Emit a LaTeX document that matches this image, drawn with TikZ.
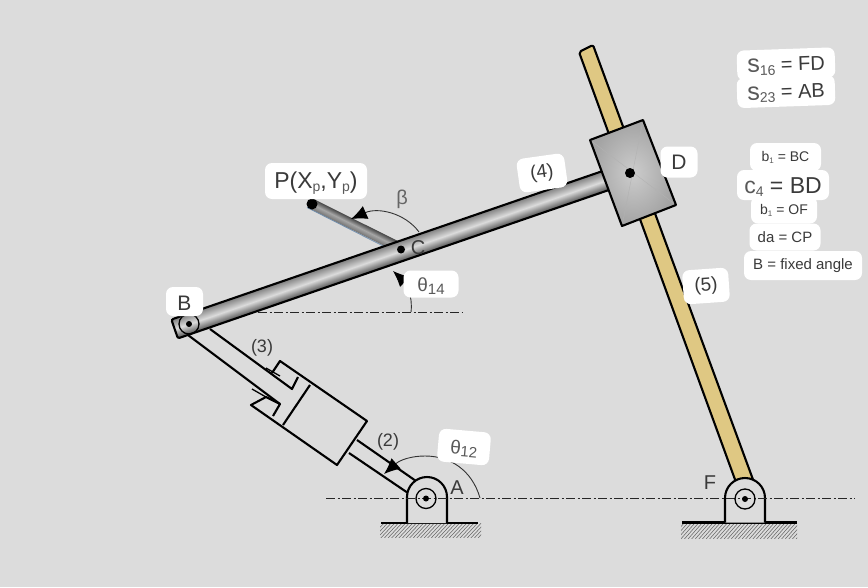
\documentclass[tikz,border=0pt]{standalone}
\usepackage{fontspec}
\setmainfont{Liberation Sans}
\usetikzlibrary{arrows.meta,calc}
\definecolor{bgc}{HTML}{DCDCDC}
\definecolor{txt}{HTML}{3A3A3A}
\definecolor{tan5}{HTML}{DFC883}
\definecolor{steel}{HTML}{6F8FB0}
\newcommand{\fs}[1]{\fontsize{#1}{#1}\selectfont}
\newcommand{\low}[2]{\raisebox{-0.25ex}{\fs{#1}\color{black!65}#2}}
\newcommand{\dn}[1]{\raisebox{-2pt}[\height][\depth]{#1}}
\tikzset{
  x=1pt,y=-1pt,
  mech/.style={line width=2.1pt,black,line join=round},
  thin mech/.style={line width=1.3pt,black},
  centerline/.style={line width=0.8pt,black!85,dash pattern=on 9pt off 2.5pt on 2pt off 2.5pt},
  angarc/.style={line width=0.9pt,black!80},
  tipp/.style={-{Latex[black,length=16pt,width=14pt]}},
  lbl/.style={fill=white,rounded corners=7pt,inner sep=0pt,text=txt,align=center},
  plain/.style={inner sep=0pt,text=txt},
  pin/.style={circle,draw=black,line width=1.3pt,minimum size=20pt,inner sep=0pt},
  pindot/.style={circle,fill=black,minimum size=6pt,inner sep=0pt},
  hatchline/.style={line width=0.55pt,black!60},
}
\begin{document}
\begin{tikzpicture}
\useasboundingbox (0,0) rectangle (868,587);
\fill[bgc] (0,0) rectangle (868,587);

% centre lines
\coordinate (cl1a) at (258,312); \coordinate (cl1b) at (463,312);
\coordinate (cl2a) at (326,498.5); \coordinate (cl2b) at (855,498.5);

% link 5
\coordinate (r5a) at (579,52); \coordinate (r5b) at (593,45);
\coordinate (r5c) at (755,485); \coordinate (r5d) at (737,485);
\draw[mech,fill=tan5,rounded corners=2pt] (r5a) -- (r5b) -- (r5c) -- (r5d) -- cycle;

% cylinder rod 3
\coordinate (b3u) at (210,329); \coordinate (b3l) at (188,335);
\coordinate (g1a) at (292,389); \coordinate (g2a) at (280,404);
\draw[mech] (b3u) -- (g1a) -- (298,377);
\draw[mech] (b3l) -- (g2a) -- (273,416);
% cylinder body
\draw[mech] (272,373) -- (280,361) -- (367,421) -- (337,465) -- (251,405) -- (266,397) -- (280,404);
\draw[mech] (310,385) -- (283,425);
\draw[thin mech] (266,368) -- (280,376);
\draw[thin mech] (252,389) -- (266,397);
% rod 2
\coordinate (a2u) at (357,440); \coordinate (a2l) at (349,453);
\coordinate (a2ue) at (416,481); \coordinate (a2le) at (408,493);
\draw[mech] (a2u) -- (a2ue);
\draw[mech] (a2l) -- (a2le);

% arm CP
\begin{scope}[transform canvas={shift={(356,226)},rotate=-26.5}]
\node[minimum width=99pt,minimum height=10.5pt,inner sep=0pt,
  top color=black!72,bottom color=black!55,middle color=black!35] (armcp) at (0,0) {};
\end{scope}
\coordinate (armla) at (307,207.5); \coordinate (armlb) at (385,247);
\draw[steel,line width=0.7pt] (armla) -- (armlb);

% link 4
\begin{scope}[transform canvas={shift={(402.5,250.5)},rotate=19}]
\node[minimum width=482pt,minimum height=20pt,inner sep=0pt,rounded corners=2pt,
  draw=black,line width=2.1pt,top color=black!50,bottom color=black!68,middle color=black!14] (link4) at (0,0) {};
\end{scope}

% block D
\coordinate (d1) at (590,140); \coordinate (d2) at (643,120);
\coordinate (d3) at (676,205); \coordinate (d4) at (622,226);
\shade[inner color=black!20,outer color=black!36] (d1) -- (d2) -- (d3) -- (d4) -- cycle;
\draw[black!30,line width=0.4pt] (d1) -- (d3) (d2) -- (d4);
\draw[mech] (d1) -- (d2) -- (d3) -- (d4) -- cycle;
\node[circle,fill=black,minimum size=10pt,inner sep=0pt] (ptD) at (630,173) {};

% dots
\node[circle,fill=black,minimum size=11pt,inner sep=0pt] (ptP) at (312,204) {};
\node[circle,fill=black,minimum size=8pt,inner sep=0pt] (ptC) at (401,249.5) {};
\node[pin] (pinB) at (189,324) {};
\node[pindot] (dotB) at (189,324) {};

% grounds
\begin{scope}
\clip (380,523) rectangle (481,537);
\foreach \k in {0,3.6,...,120} \draw[hatchline] (370+\k,538) -- (385+\k,522);
\end{scope}
\begin{scope}
\clip (681,523) rectangle (797,538);
\foreach \k in {0,3.6,...,136} \draw[hatchline] (670+\k,539) -- (685+\k,522);
\end{scope}
\coordinate (gAa) at (381,523); \coordinate (gAb) at (478,523);
\coordinate (gFa) at (682,522.5); \coordinate (gFb) at (797,522.5);
\draw[mech] (gAa) -- (gAb);
\draw[mech] (gFa) -- (gFb);

% lugs
\draw[mech,fill=bgc] (407,523) -- (407,497) arc[start angle=180,end angle=360,x radius=20,y radius=20] -- (447,523);
\draw[mech,fill=bgc] (725,522.5) -- (725,498) arc[start angle=180,end angle=360,x radius=20,y radius=20] -- (765,522.5);

% centre lines over lugs
\draw[centerline] (cl1a) -- (cl1b);
\draw[centerline] (cl2a) -- (cl2b);
\node[pin] (pinA) at (426,498.5) {};
\node[pindot] (dotA) at (426,498.5) {};
\node[pin] (pinF) at (745,499) {};
\node[pindot] (dotF) at (745,499) {};

% angle arcs
\coordinate (t14a) at (411,312); \coordinate (t14b) at (393,271);
\draw[angarc,tipp] (t14a) .. controls (413,296) and (406,283) .. (t14b);
\coordinate (ba) at (419,232); \coordinate (bb) at (351,219);
\draw[angarc,tipp] (ba) .. controls (405,213) and (378,207) .. (bb);
\coordinate (t12a) at (480,498); \coordinate (t12m) at (425,456); \coordinate (t12b) at (384,474);
\draw[angarc] (t12a) .. controls (472,470) and (450,456) .. (t12m);
\draw[angarc,tipp] (t12m) .. controls (411,456) and (400,460) .. (t12b);

% labels on the mechanism
\node[lbl,minimum width=102pt,minimum height=36pt] (lblP) at (316,181)
  {\dn{\fs{23}P(X\low{14}{p},Y\low{14}{p})}};
\node[plain,text=black!60] (lblbeta) at (402,199) {\fs{20}β};
\node[plain] (lblC) at (418,248) {\fs{20}C};
\node[lbl,minimum width=55pt,minimum height=27pt] (lblt14) at (431,284)
  {\dn{\fs{19}\textcolor{black!65}{θ}\low{15}{14}}};
\node[lbl,minimum width=37pt,minimum height=29pt] (lblB) at (184.5,301.5) {\dn{\fs{21}B}};
\node[plain] (lbl3) at (262,348) {\fs{18}(3)};
\node[lbl,minimum width=48pt,minimum height=34pt,rotate=8] (lbl4) at (542,173) {\fs{19}(4)};
\node[lbl,minimum width=37pt,minimum height=31pt] (lblD) at (679,162) {\fs{21}D};
\node[lbl,minimum width=46pt,minimum height=34pt,rotate=4] (lbl5) at (706,286) {\fs{19}(5)};
\node[plain] (lbl2) at (388,442) {\fs{18}(2)};
\node[lbl,minimum width=52pt,minimum height=33pt,rotate=-5] (lblt12) at (464,447)
  {\dn{\fs{19}\textcolor{black!65}{θ}\low{15}{12}}};
\node[plain] (lblA) at (457,488) {\fs{20}A};
\node[plain] (lblF) at (710,483) {\fs{20}F};

% side panel
\node[lbl,minimum width=98pt,minimum height=30pt,rotate=2] (pS16) at (786,64)
  {\dn{\fs{25}\textcolor{black!65}{s}\low{14}{16}\fs{20} = FD}};
\node[lbl,minimum width=98pt,minimum height=30pt,rotate=2] (pS23) at (786,91.5)
  {\dn{\fs{25}\textcolor{black!65}{s}\low{14}{23}\fs{20} = AB}};
\node[lbl,minimum width=71pt,minimum height=28pt] (pB1) at (785.5,157)
  {\fs{14}b\low{8}{1} = BC};
\node[lbl,minimum width=92pt,minimum height=30pt] (pC4) at (783,185)
  {\dn{\fs{23}\textcolor{black!65}{c}\low{14}{4}\fs{23} = BD}};
\node[lbl,minimum width=66pt,minimum height=27pt] (pOF) at (784,210)
  {\fs{14}b\low{8}{1} = OF};
\node[lbl,minimum width=71pt,minimum height=27pt] (pDa) at (785,237)
  {\fs{15}da = CP};
\node[lbl,minimum width=118pt,minimum height=29pt] (pFix) at (803,265.5)
  {\fs{15}B = fixed angle};
\end{tikzpicture}
\end{document}
